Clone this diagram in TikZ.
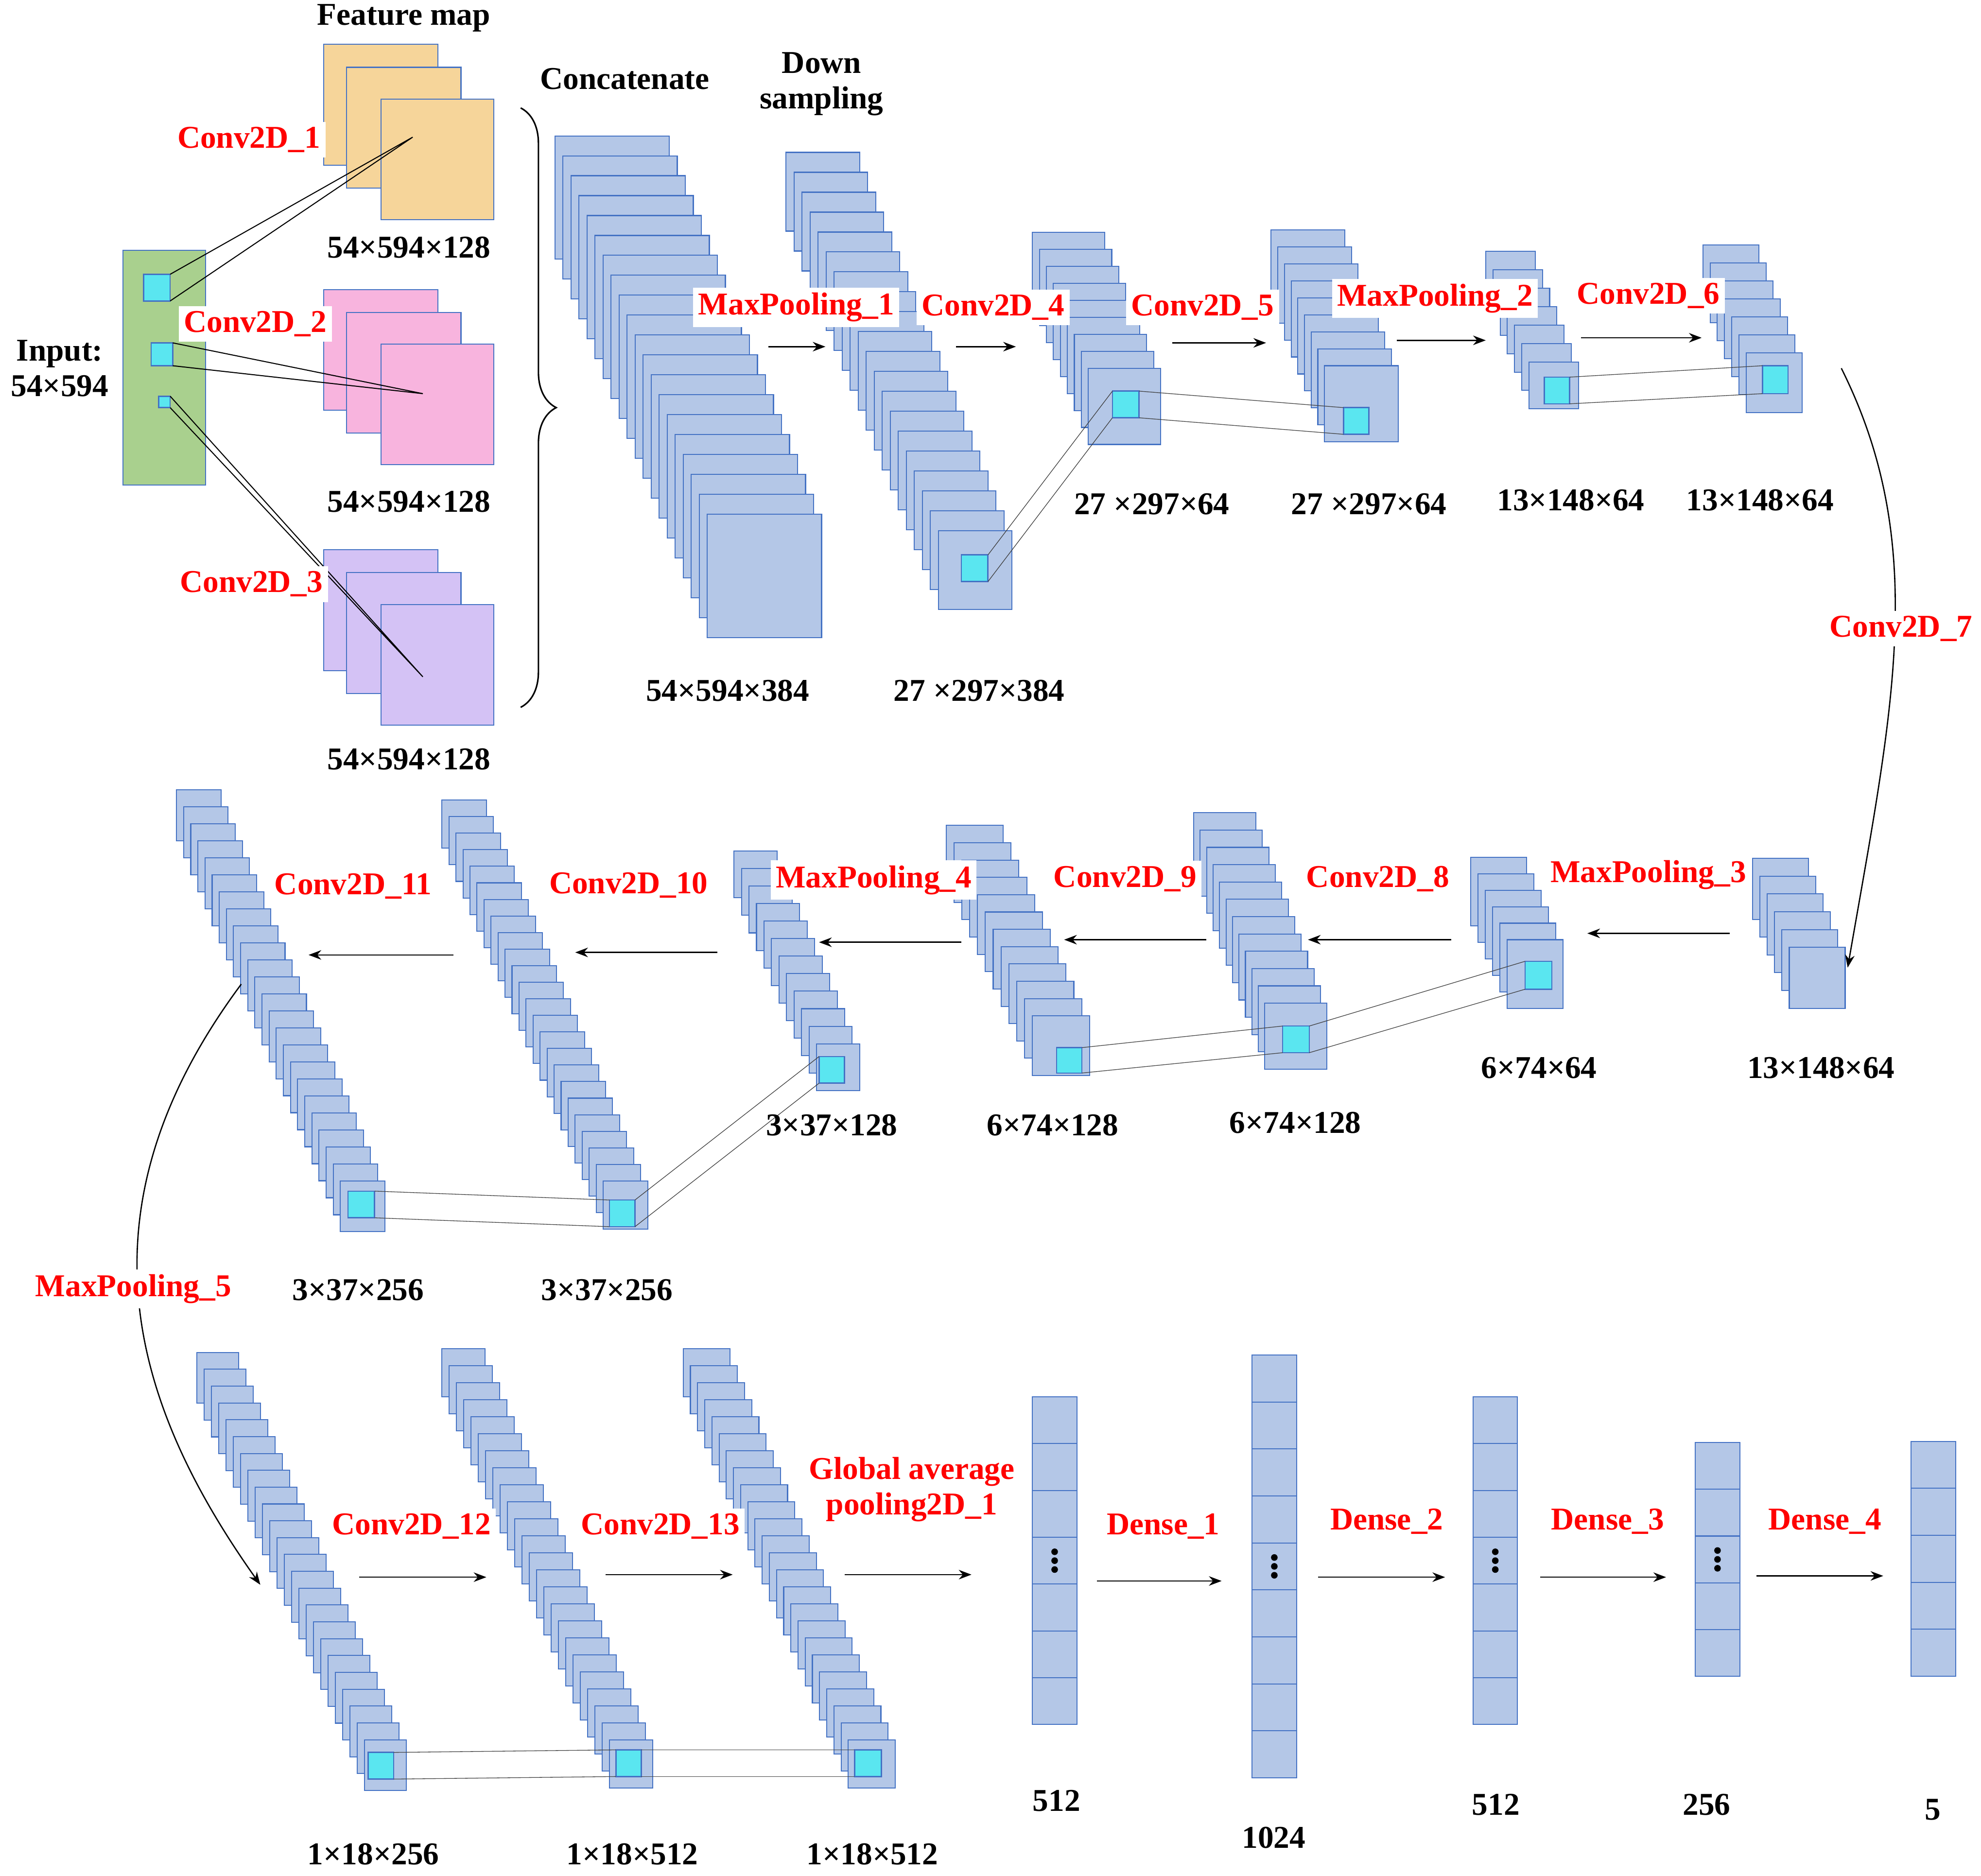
\documentclass[tikz,border=0pt]{standalone}
\usepackage{fontspec}
\setmainfont{Liberation Serif}
\usetikzlibrary{arrows.meta,decorations.pathreplacing}
\definecolor{sb}{RGB}{180,199,231}
\definecolor{sbd}{RGB}{68,114,196}
\definecolor{cy}{RGB}{90,230,240}
\definecolor{org}{RGB}{246,213,154}
\definecolor{pnk}{RGB}{248,180,222}
\definecolor{prp}{RGB}{212,194,245}
\definecolor{grn}{RGB}{169,208,142}
\tikzset{
 stk/.style={draw=sbd,fill=sb,line width=0.4pt},
 cysq/.style={draw=sbd,fill=cy,line width=0.5pt},
 thin line/.style={line width=0.25pt,draw=black!75},
 arr/.style={-{Stealth[length=5pt]},line width=0.5pt},
 lbl/.style={font=\bfseries\fontsize{12.5}{14}\selectfont,align=center,inner sep=1pt},
 rlbl/.style={lbl,text=red,fill=white,inner sep=2pt},
}
\newcommand\stk[7]{\foreach \i in {0,...,\numexpr#5-1\relax}{%
 \pgfmathsetmacro\xx{#1+(#3-#1)*\i/(#5-1)}\pgfmathsetmacro\yy{#2+(#4-#2)*\i/(#5-1)}%
 \draw[stk] (\xx,\yy) rectangle ++(#6,#7);}}
\newcommand\cys[5]{\draw[cysq] (#2,#3) rectangle (#4,#5);
 \coordinate (#1tl) at (#2,#3);\coordinate (#1bl) at (#2,#5);\coordinate (#1tr) at (#4,#3);\coordinate (#1br) at (#4,#5);}
\newcommand\dense[6]{\draw[stk] (#1,#2) rectangle (#3,#4);
 \foreach \k in {1,...,\numexpr#5-1\relax}{\pgfmathsetmacro\yy{#2+(#4-#2)*\k/#5}\draw[sbd,line width=0.4pt] (#1,\yy) -- (#3,\yy);}
 \ifnum#6=1 \pgfmathsetmacro\ym{(#2+#4)/2}\pgfmathsetmacro\xm{(#1+#3)/2}
 \foreach \d in {-7,0,7}{\fill (\xm,\ym+\d) circle (1.3pt);}\fi}
\begin{document}
\begin{tikzpicture}[x=0.5pt,y=-0.5pt]
\useasboundingbox (0,0) rectangle (1560,1477);
% input
\draw[sbd,fill=grn] (97,197) rectangle (162,382);
\cys{i1}{113}{216}{134}{237}
\cys{i2}{119}{270}{136}{288}
\cys{i3}{125}{312}{134}{321}
% feature maps
\foreach \c/\y in {org/35,pnk/228,prp/433}{
 \draw[sbd,fill=\c] (255,\y) rectangle ++(90,95);
 \draw[sbd,fill=\c] (273,\y+18) rectangle ++(90,95);
 \draw[sbd,fill=\c] (300,\y+43) rectangle ++(89,95);}
\coordinate (f1) at (325,108);\coordinate (f2) at (333,310);\coordinate (f3) at (333,533);
\draw[line width=0.4pt] (i1tr) -- (f1) (i1br) -- (f1);
\draw[line width=0.4pt] (i2tr) -- (f2) (i2br) -- (f2);
\draw[line width=0.4pt] (i3tr) -- (f3) (i3br) -- (f3);
\draw[decorate,decoration={brace,amplitude=14pt},line width=0.6pt] (410,85) -- (410,557);
% row 1 stacks
\stk{437}{107}{557}{405}{20}{90}{97}
\stk{619}{120}{739}{418}{20}{58}{62}
\cys{d}{757}{437}{778}{458}
\stk{813}{183}{857}{290}{9}{57}{60}
\cys{c4}{876}{308}{897}{329}
\stk{1001}{181}{1043}{288}{9}{58}{60}
\cys{c5}{1058}{321}{1078}{342}
\stk{1170}{198}{1204}{285}{7}{39}{37}
\cys{m2}{1216}{297}{1236}{318}
\stk{1341}{193}{1375}{278}{7}{44}{47}
\cys{c6}{1388}{288}{1408}{310}
\draw[thin line] (dtr) -- (c4tl) (dbr) -- (c4bl);
\draw[thin line] (c4tr) -- (c5tl) (c4br) -- (c5bl);
\draw[thin line] (m2tr) -- (c6tl) (m2br) -- (c6bl);
% row 2 stacks
\stk{1380}{676}{1409}{746}{6}{44}{48}
\stk{1158}{675}{1187}{740}{6}{44}{54}
\cys{m3}{1201}{757}{1222}{779}
\stk{940}{640}{996}{790}{12}{49}{52}
\cys{c8}{1010}{808}{1031}{829}
\stk{745}{650}{813}{800}{12}{45}{47}
\cys{c9}{832}{825}{852}{845}
\stk{578}{670}{643}{822}{12}{34}{37}
\cys{m4}{645}{832}{665}{853}
\stk{348}{630}{475}{930}{24}{35}{38}
\cys{c10}{480}{945}{500}{966}
\stk{139}{622}{268}{930}{24}{35}{40}
\cys{c11}{274}{938}{295}{959}
\draw[thin line] (m3tl) -- (c8tr) (m3bl) -- (c8br);
\draw[thin line] (c8tl) -- (c9tr) (c8bl) -- (c9br);
\draw[thin line] (m4tl) -- (c10tr) (m4bl) -- (c10br);
\draw[thin line] (c10tl) -- (c11tr) (c10bl) -- (c11br);
% row 3 stacks
\stk{155}{1065}{287}{1370}{24}{33}{40}
\cys{c12}{290}{1380}{310}{1401}
\stk{348}{1062}{480}{1370}{24}{34}{38}
\cys{c13}{485}{1378}{505}{1399}
\stk{538}{1062}{668}{1370}{24}{37}{38}
\cys{g}{673}{1378}{694}{1399}
\draw[thin line] (c12tr) -- (c13tl) (c12br) -- (c13bl);
\draw[thin line] (c13tr) -- (gtl) (c13br) -- (gbl);
\dense{813}{1100}{848}{1358}{7}{1}
\dense{986}{1067}{1021}{1400}{9}{1}
\dense{1160}{1100}{1195}{1358}{7}{1}
\dense{1335}{1136}{1370}{1320}{5}{1}
\dense{1505}{1135}{1540}{1320}{5}{0}
% arrows
\foreach \a/\b/\y in {605/650/273,753/800/273,923/997/270,1100/1170/268,1245/1340/266,
 1362/1250/735,1143/1030/740,950/838/740,757/645/742,565/453/750,357/243/752,
 283/383/1242,477/577/1240,665/765/1240,864/962/1245,1038/1138/1242,1213/1312/1242,1383/1483/1241}
 {\coordinate (aa) at (\a,\y);\coordinate (ab) at (\b,\y);\draw[arr] (aa) -- (ab);}
\coordinate (k1) at (1450,290);\coordinate (k2) at (1455,762);
\draw[-{Stealth[length=5pt]},line width=0.5pt] (k1) .. controls (1520,430) and (1490,560) .. (k2);
\coordinate (p1) at (190,775);\coordinate (p2) at (205,1248);
\draw[-{Stealth[length=5pt]},line width=0.5pt] (p1) .. controls (60,950) and (100,1100) .. (p2);
% red labels
\node[rlbl] (l1) at (196,110) {Conv2D\_1};
\node[rlbl] (l2) at (201,255) {Conv2D\_2};
\node[rlbl] (l3) at (198,460) {Conv2D\_3};
\node[rlbl] (l4) at (627,242) {MaxPooling\_1};
\node[rlbl] (l5) at (782,242) {Conv2D\_4};
\node[rlbl] (l6) at (947,242) {Conv2D\_5};
\node[rlbl] (l7) at (1130,235) {MaxPooling\_2};
\node[rlbl] (l8) at (1298,233) {Conv2D\_6};
\node[rlbl] (l9) at (1497,495) {Conv2D\_7};
\node[rlbl] (l10) at (1298,689) {MaxPooling\_3};
\node[rlbl] (l11) at (1085,692) {Conv2D\_8};
\node[rlbl] (l12) at (886,692) {Conv2D\_9};
\node[rlbl] (l13) at (688,693) {MaxPooling\_4};
\node[rlbl] (l14) at (495,697) {Conv2D\_10};
\node[rlbl] (l15) at (278,698) {Conv2D\_11};
\node[rlbl] (l16) at (105,1015) {MaxPooling\_5};
\node[rlbl] (l17) at (324,1202) {Conv2D\_12};
\node[rlbl] (l18) at (520,1202) {Conv2D\_13};
\node[rlbl] (l19) at (718,1173) {Global average\\pooling2D\_1};
\node[rlbl] (l20) at (916,1202) {Dense\_1};
\node[rlbl] (l21) at (1092,1198) {Dense\_2};
\node[rlbl] (l22) at (1266,1198) {Dense\_3};
\node[rlbl] (l23) at (1437,1198) {Dense\_4};
% black labels
\node[lbl] (t1) at (318,14) {Feature map};
\node[lbl] (t2) at (47,290) {Input:\\54×594};
\node[lbl] (t3) at (322,195) {54×594×128};
\node[lbl] (t4) at (322,395) {54×594×128};
\node[lbl] (t5) at (322,598) {54×594×128};
\node[lbl] (t6) at (492,62) {Concatenate};
\node[lbl] (t7) at (647,66) {Down\\sampling};
\node[lbl] (t8) at (573,544) {54×594×384};
\node[lbl] (t9) at (771,544) {27 ×297×384};
\node[lbl] (t10) at (907,397) {27 ×297×64};
\node[lbl] (t11) at (1078,397) {27 ×297×64};
\node[lbl] (t12) at (1237,394) {13×148×64};
\node[lbl] (t13) at (1386,394) {13×148×64};
\node[lbl] (t14) at (1434,841) {13×148×64};
\node[lbl] (t15) at (1212,841) {6×74×64};
\node[lbl] (t16) at (1020,884) {6×74×128};
\node[lbl] (t17) at (829,886) {6×74×128};
\node[lbl] (t18) at (655,886) {3×37×128};
\node[lbl] (t19) at (282,1016) {3×37×256};
\node[lbl] (t20) at (478,1016) {3×37×256};
\node[lbl] (t21) at (294,1460) {1×18×256};
\node[lbl] (t22) at (498,1460) {1×18×512};
\node[lbl] (t23) at (687,1460) {1×18×512};
\node[lbl] (t24) at (832,1418) {512};
\node[lbl] (t25) at (1003,1447) {1024};
\node[lbl] (t26) at (1178,1421) {512};
\node[lbl] (t27) at (1344,1421) {256};
\node[lbl] (t28) at (1522,1425) {5};
\end{tikzpicture}
\end{document}
